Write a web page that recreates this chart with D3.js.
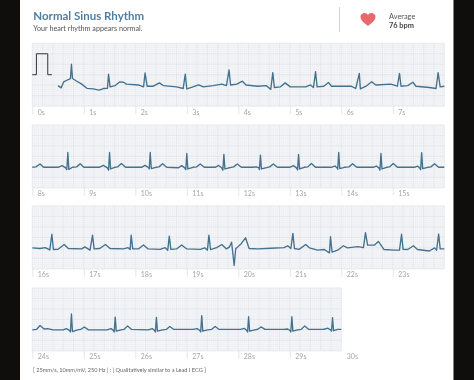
<!DOCTYPE html>
<html>
<head>
<meta charset="utf-8">
<script src="https://cdn.jsdelivr.net/npm/d3@7"></script>
<style>
html, body { margin: 0; padding: 0; background: #100e0c; }
svg { display: block; filter: blur(0.35px); }
text { font-family: Lato, "Open Sans", sans-serif; }
</style>
</head>
<body>
<svg id="chart" width="474" height="380"></svg>
<script>
// each strip is a list of [seconds, mV]
const strip1 = [[0.50,-0.52],[0.56,-0.63],[0.61,-0.34],[0.70,-0.23],[0.74,-0.19],[0.76,0.50],[0.78,-0.18],[0.85,-0.29],[0.96,-0.45],[1.06,-0.65],[1.18,-0.68],[1.30,-0.74],[1.38,-0.66],[1.46,-0.65],[1.48,0.03],[1.51,-0.58],[1.61,-0.52],[1.70,-0.34],[1.77,-0.36],[1.83,-0.45],[2.06,-0.49],[2.16,-0.58],[2.19,0.08],[2.23,-0.55],[2.35,-0.55],[2.47,-0.39],[2.54,-0.52],[2.80,-0.58],[2.93,-0.66],[2.97,0.03],[3.00,-0.68],[3.09,-0.61],[3.23,-0.49],[3.32,-0.58],[3.51,-0.52],[3.68,-0.45],[3.77,-0.52],[3.82,0.23],[3.85,-0.49],[3.97,-0.45],[4.08,-0.31],[4.15,-0.49],[4.38,-0.55],[4.54,-0.52],[4.63,-0.70],[4.67,0.10],[4.70,-0.61],[4.82,-0.58],[4.91,-0.39],[5.01,-0.58],[5.31,-0.58],[5.40,-0.49],[5.46,-0.61],[5.50,0.15],[5.53,-0.58],[5.66,-0.55],[5.75,-0.37],[5.81,-0.55],[6.19,-0.55],[6.28,-0.66],[6.35,0.06],[6.37,-0.68],[6.48,-0.55],[6.59,-0.34],[6.67,-0.49],[6.96,-0.45],[7.09,-0.55],[7.13,0.06],[7.16,-0.55],[7.29,-0.52],[7.39,-0.36],[7.45,-0.55],[7.71,-0.61],[7.84,-0.66],[7.88,0.10],[7.92,-0.58],[8.00,-0.55]];

const strip2 = [[8.00,-0.52],[8.07,-0.50],[8.15,-0.36],[8.22,-0.52],[8.50,-0.52],[8.58,-0.44],[8.65,-0.55],[8.67,-0.64],[8.69,0.19],[8.71,-0.62],[8.78,-0.52],[8.86,-0.50],[8.93,-0.35],[9.00,-0.52],[9.30,-0.52],[9.38,-0.43],[9.46,-0.55],[9.48,-0.66],[9.50,0.19],[9.52,-0.60],[9.60,-0.52],[9.66,-0.50],[9.73,-0.34],[9.81,-0.52],[10.12,-0.52],[10.19,-0.43],[10.26,-0.54],[10.27,-0.60],[10.29,0.19],[10.31,-0.58],[10.40,-0.52],[10.46,-0.50],[10.53,-0.35],[10.61,-0.52],[10.84,-0.54],[10.90,-0.44],[10.96,-0.55],[10.98,-0.63],[11.00,0.14],[11.02,-0.60],[11.12,-0.52],[11.19,-0.50],[11.26,-0.36],[11.34,-0.52],[11.55,-0.52],[11.62,-0.43],[11.68,-0.55],[11.70,-0.66],[11.72,0.10],[11.74,-0.60],[11.84,-0.54],[11.91,-0.50],[11.98,-0.36],[12.06,-0.52],[12.28,-0.52],[12.35,-0.50],[12.40,-0.55],[12.41,-0.63],[12.43,0.06],[12.45,-0.60],[12.55,-0.54],[12.61,-0.50],[12.68,-0.36],[12.76,-0.52],[13.00,-0.52],[13.07,-0.44],[13.13,-0.55],[13.15,-0.65],[13.17,0.10],[13.19,-0.60],[13.28,-0.52],[13.35,-0.50],[13.42,-0.34],[13.50,-0.52],[13.80,-0.52],[13.88,-0.46],[13.92,-0.55],[13.93,-0.62],[13.95,0.19],[13.97,-0.58],[14.06,-0.52],[14.15,-0.50],[14.22,-0.35],[14.30,-0.52],[14.62,-0.52],[14.68,-0.46],[14.73,-0.55],[14.75,-0.66],[14.77,0.14],[14.79,-0.60],[14.88,-0.52],[14.94,-0.50],[15.01,-0.34],[15.09,-0.52],[15.42,-0.52],[15.48,-0.46],[15.52,-0.55],[15.54,-0.63],[15.56,0.18],[15.58,-0.58],[15.68,-0.52],[15.74,-0.50],[15.81,-0.35],[15.89,-0.52],[16.00,-0.52]];

const strip3 = [[16.00,-0.50],[16.15,-0.53],[16.25,-0.49],[16.34,-0.60],[16.38,0.15],[16.41,-0.58],[16.50,-0.57],[16.62,-0.34],[16.70,-0.53],[16.96,-0.55],[17.02,-0.45],[17.12,-0.61],[17.17,0.11],[17.20,-0.55],[17.31,-0.53],[17.42,-0.34],[17.51,-0.53],[17.77,-0.55],[17.86,-0.49],[17.90,-0.58],[17.92,0.11],[17.95,-0.55],[18.06,-0.55],[18.16,-0.36],[18.25,-0.55],[18.48,-0.57],[18.58,-0.49],[18.63,-0.61],[18.66,0.06],[18.69,-0.57],[18.80,-0.55],[18.90,-0.36],[19.00,-0.55],[19.26,-0.57],[19.35,-0.50],[19.40,-0.61],[19.43,0.11],[19.46,-0.58],[19.58,-0.49],[19.68,-0.34],[19.77,-0.55],[19.83,-0.45],[19.87,-0.23],[19.92,-1.34],[19.95,-0.53],[19.97,-0.50],[20.06,-0.29],[20.14,-0.02],[20.21,-0.53],[20.38,-0.55],[20.63,-0.52],[20.89,-0.49],[20.96,-0.40],[21.02,-0.53],[21.06,0.19],[21.09,-0.53],[21.18,-0.57],[21.31,-0.34],[21.38,-0.50],[21.54,-0.61],[21.67,-0.58],[21.77,-0.74],[21.79,0.03],[21.82,-0.70],[21.93,-0.61],[22.04,-0.40],[22.12,-0.50],[22.32,-0.44],[22.43,-0.49],[22.47,0.23],[22.51,-0.37],[22.64,-0.37],[22.72,-0.19],[22.83,-0.58],[23.03,-0.61],[23.13,-0.61],[23.17,0.15],[23.20,-0.57],[23.29,-0.58],[23.40,-0.40],[23.48,-0.58],[23.71,-0.65],[23.81,-0.50],[23.85,-0.61],[23.89,0.16],[23.92,-0.55],[24.00,-0.55]];

const strip4 = [[24.00,-0.50],[24.08,-0.48],[24.15,-0.29],[24.23,-0.46],[24.30,-0.44],[24.40,-0.50],[24.60,-0.50],[24.66,-0.44],[24.72,-0.52],[24.74,-0.60],[24.76,0.26],[24.78,-0.58],[24.88,-0.50],[24.94,-0.48],[25.01,-0.36],[25.09,-0.50],[25.45,-0.50],[25.53,-0.44],[25.57,-0.52],[25.59,-0.60],[25.61,0.11],[25.63,-0.56],[25.72,-0.50],[25.78,-0.48],[25.85,-0.31],[25.93,-0.48],[26.25,-0.50],[26.33,-0.44],[26.37,-0.52],[26.39,-0.60],[26.41,0.10],[26.43,-0.56],[26.53,-0.50],[26.60,-0.48],[26.67,-0.34],[26.75,-0.48],[27.12,-0.48],[27.20,-0.44],[27.25,-0.52],[27.27,-0.60],[27.29,0.18],[27.31,-0.56],[27.40,-0.50],[27.48,-0.48],[27.55,-0.34],[27.63,-0.48],[28.04,-0.48],[28.12,-0.43],[28.16,-0.52],[28.18,-0.60],[28.20,0.13],[28.22,-0.56],[28.32,-0.50],[28.38,-0.47],[28.44,-0.36],[28.52,-0.48],[28.88,-0.48],[28.96,-0.46],[29.00,-0.52],[29.02,-0.60],[29.04,0.13],[29.06,-0.56],[29.15,-0.50],[29.22,-0.48],[29.29,-0.31],[29.37,-0.48],[29.66,-0.47],[29.74,-0.42],[29.79,-0.50],[29.81,-0.56],[29.83,0.08],[29.85,-0.54],[29.93,-0.48],[30.00,-0.48]];

const calibration = [[0,0],[0.08,0],[0.08,1],[0.30,1],[0.30,0],[0.38,0]];

const stripStarts = [0, 8, 16, 24];
const stripEnds = [8, 16, 24, 30];
const stripTicks = [
    [0, 1, 2, 3, 4, 5, 6, 7],
    [8, 9, 10, 11, 12, 13, 14, 15],
    [16, 17, 18, 19, 20, 21, 22, 23],
    [24, 25, 26, 27, 28, 29, 30]
];
const stripData = [strip1, strip2, strip3, strip4];
const stripTops = [43.3, 125, 206, 288];

const titleText = "Normal Sinus Rhythm";
const subtitleText = "Your heart rhythm appears normal.";
const averageLabel = "Average";
const averageValue = "76 bpm";
const footerText = "[ 25mm/s, 10mm/mV, 250 Hz | : | Qualitatively similar to a Lead I ECG ]";

const stripHeight = 62.8;
const pxPerSecond = 51.5;
const stripLeft = 32.3;
const lineColor = "#44728f";

const svg = d3.select("#chart");

// white page between the black side bars
svg.append("rect").attr("x", 20).attr("y", 0).attr("width", 433.7).attr("height", 380).attr("fill", "#fff");
svg.append("rect").attr("x", 0).attr("y", 0).attr("width", 20).attr("height", 380).attr("fill", "#100e0c");
svg.append("rect").attr("x", 453.7).attr("y", 0).attr("width", 20.3).attr("height", 380).attr("fill", "#100e0c");

stripStarts.forEach(function(start, i){
    const end = stripEnds[i];
    const x = d3.scaleLinear().domain([start, end]).range([0, (end - start) * pxPerSecond]);
    const y = d3.scaleLinear().domain([-1.5, 1.5]).range([stripHeight, 0]);
    const w = x(end);
    const g = svg.append("g").attr("class", "strip")
        .attr("transform", "translate(" + stripLeft + "," + stripTops[i] + ")");

    g.append("rect").attr("width", w).attr("height", stripHeight).attr("fill", "#f6f7f9");

    // 1mm and 5mm paper grid
    const minorX = d3.range(start, end + 0.001, 0.04);
    const minorY = d3.range(-1.5, 1.501, 0.1);
    const majorX = d3.range(start, end + 0.001, 0.2);
    const majorY = d3.range(-1.5, 1.501, 0.5);
    g.append("g").selectAll("line").data(minorX).join("line")
        .attr("x1", d => x(d)).attr("x2", d => x(d)).attr("y1", 0).attr("y2", stripHeight)
        .attr("stroke", "#e9ecef").attr("stroke-width", 0.4);
    g.append("g").selectAll("line").data(minorY).join("line")
        .attr("x1", 0).attr("x2", w).attr("y1", d => y(d)).attr("y2", d => y(d))
        .attr("stroke", "#e9ecef").attr("stroke-width", 0.4);
    g.append("g").selectAll("line").data(majorX).join("line")
        .attr("x1", d => x(d)).attr("x2", d => x(d)).attr("y1", 0).attr("y2", stripHeight)
        .attr("stroke", "#e2e2e4").attr("stroke-width", 0.6);
    g.append("g").selectAll("line").data(majorY).join("line")
        .attr("x1", 0).attr("x2", w).attr("y1", d => y(d)).attr("y2", d => y(d))
        .attr("stroke", "#e2e2e4").attr("stroke-width", 0.6);

    // seconds axis, label sits right of its tick
    const axis = d3.axisBottom(x)
        .tickValues(stripTicks[i])
        .tickFormat(d => d + "s")
        .tickSize(8).tickSizeOuter(0);
    const ax = g.append("g").attr("transform", "translate(0," + stripHeight + ")").call(axis);
    ax.select(".domain").remove();
    ax.selectAll(".tick line").attr("stroke", "#e0e0e0").attr("stroke-width", 0.8)
        .filter(d => d === 30).remove();
    ax.selectAll(".tick text").attr("x", 5).attr("y", 3.5).attr("dy", "0.71em")
        .attr("text-anchor", "start").attr("fill", "#a6a6a6")
        .style("font-size", "7px").style("font-family", "Lato, sans-serif");

    const line = d3.line().x(d => x(d[0])).y(d => y(d[1]));
    g.append("path").datum(stripData[i]).attr("d", line)
        .attr("fill", "none").attr("stroke", lineColor).attr("stroke-width", 1.35)
        .attr("stroke-linejoin", "round");

    if(i === 0){
        const calLine = d3.line().x(d => x(d[0])).y(d => y(d[1]));
        g.append("path").datum(calibration).attr("d", calLine)
            .attr("fill", "none").attr("stroke", "#333").attr("stroke-width", 1);
    }
});

// header
svg.append("text").attr("x", 33.3).attr("y", 20).text(titleText)
    .attr("fill", "#4f7ea5").style("font-size", "11.5px").style("font-weight", 700);
svg.append("text").attr("x", 33.3).attr("y", 31).text(subtitleText)
    .attr("fill", "#555").style("font-size", "7.2px");
svg.append("line").attr("x1", 339.5).attr("x2", 339.5).attr("y1", 7).attr("y2", 32)
    .attr("stroke", "#c8c8c8").attr("stroke-width", 0.8);
svg.append("path")
    .attr("transform", "translate(368,19.5)")
    .attr("d", "M0,6.5 C-3,4 -7.5,1 -7.5,-2.5 C-7.5,-5.5 -5,-6.5 -3.5,-6.5 C-2,-6.5 -0.7,-5.7 0,-4.5 C0.7,-5.7 2,-6.5 3.5,-6.5 C5,-6.5 7.5,-5.5 7.5,-2.5 C7.5,1 3,4 0,6.5 Z")
    .attr("fill", "#e8696b");
svg.append("text").attr("x", 389).attr("y", 19).text(averageLabel)
    .attr("fill", "#555").style("font-size", "7.4px");
svg.append("text").attr("x", 389).attr("y", 28).text(averageValue)
    .attr("fill", "#444").style("font-size", "7.4px").style("font-weight", 700);

// footer
svg.append("text").attr("x", 33).attr("y", 371.5).text(footerText)
    .attr("fill", "#666").style("font-size", "5.6px");
</script>
</body>
</html>
